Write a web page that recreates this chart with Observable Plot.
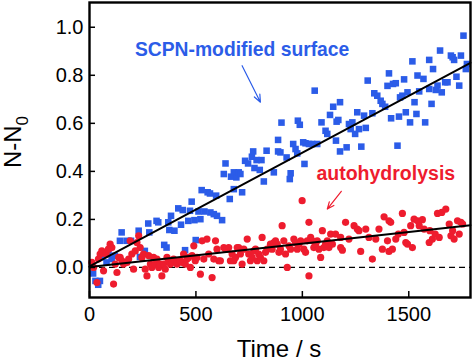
<!DOCTYPE html>
<html><head><meta charset="utf-8">
<script src="https://cdn.jsdelivr.net/npm/d3@7"></script>
<script src="https://cdn.jsdelivr.net/npm/@observablehq/plot@0.6"></script>
<style>body{margin:0;background:#fff}</style>
</head><body><div id="chart"></div>
<script>
const xTicks = [0, 500, 1000, 1500];
const yTicks = [0, 0.2, 0.4, 0.6, 0.8, 1.0];

const blueTime = [17,28,41,49,58,80,89,104,119,143,151,174,195,231,237,260,276,281,315,323,351,362,370,375,383,399,417,430,438,449,464,472,480,493,499,512,521,527,540,555,566,595,568,584,599,623,631,639,659,665,678,678,690,701,709,717,731,745,763,769,775,785,800,808,819,832,866,886,886,897,902,926,941,945,957,968,976,979,988,1004,1010,1015,1031,1046,1058,1070,1090,1109,1117,1130,1145,1158,1161,1169,1177,1177,1208,1219,1227,1235,1248,1258,1266,1277,1290,1298,1307,1329,1338,1352,1368,1376,1389,1400,1407,1417,1426,1439,1447,1454,1459,1470,1478,1486,1494,1506,1517,1527,1536,1541,1549,1569,1577,1596,1596,1607,1614,1627,1635,1647,1655,1671,1682,1698,1706,1713,1724,1737,1745,1757,1768,1773];
const blueValue = [-0.025,-0.056,-0.072,-0.056,0.042,0.021,0.063,0.035,0.049,0.111,0.146,0.111,0.111,0.153,0.044,0.069,0.183,0.146,0.194,0.188,0.094,0.083,0.188,0.156,0.215,0.153,0.246,0.178,0.239,0.072,0.194,0.236,0.274,0.197,0.114,0.233,0.201,0.322,0.233,0.313,0.308,0.299,0.229,0.222,0.215,0.197,0.389,0.433,0.285,0.378,0.396,0.326,0.375,0.396,0.389,0.313,0.444,0.433,0.461,0.483,0.414,0.447,0.406,0.447,0.358,0.486,0.396,0.531,0.483,0.479,0.603,0.458,0.368,0.392,0.514,0.493,0.475,0.611,0.594,0.521,0.431,0.517,0.514,0.514,0.736,0.514,0.604,0.569,0.556,0.635,0.669,0.528,0.607,0.614,0.688,0.483,0.500,0.597,0.576,0.604,0.556,0.646,0.576,0.503,0.632,0.581,0.778,0.642,0.725,0.715,0.694,0.681,0.669,0.756,0.808,0.621,0.764,0.767,0.507,0.628,0.708,0.715,0.783,0.646,0.729,0.604,0.858,0.688,0.639,0.799,0.733,0.785,0.604,0.864,0.743,0.681,0.826,0.739,0.757,0.903,0.729,0.771,0.771,0.882,0.875,0.864,0.794,0.757,0.882,0.965,0.826,0.847];

const redTime = [11,19,35,42,50,58,66,78,89,97,105,113,121,129,137,144,152,160,176,184,191,199,207,215,223,231,238,246,254,262,270,278,286,293,301,309,317,325,333,340,348,356,364,372,380,388,395,403,411,427,435,442,450,458,466,474,482,490,497,505,521,529,537,552,560,576,584,592,599,607,615,631,639,646,654,662,670,678,686,694,701,709,717,725,741,748,756,764,772,780,788,795,803,811,819,827,835,850,858,866,874,882,890,897,905,913,921,929,937,945,960,968,976,984,992,999,1007,1015,1023,1031,1031,1039,1047,1054,1062,1070,1078,1086,1094,1101,1109,1117,1125,1133,1141,1156,1180,1180,1188,1203,1219,1243,1258,1266,1274,1298,1313,1329,1345,1360,1376,1384,1400,1407,1407,1415,1423,1439,1451,1470,1478,1486,1494,1509,1517,1525,1541,1549,1564,1572,1596,1599,1611,1624,1635,1643,1655,1674,1690,1698,1706,1713,1729,1737,1745,1753];
const redValue = [0.021,0.000,-0.063,0.035,0.056,0.069,-0.014,0.056,0.076,0.097,0.083,-0.069,0.014,-0.021,0.042,0.042,0.028,0.014,0.021,0.035,0.111,0.056,-0.007,0.069,0.104,0.132,0.083,0.042,0.056,-0.007,-0.035,0.049,0.014,0.000,0.042,0.014,0.035,0.000,0.014,-0.035,0.014,-0.007,0.042,0.028,0.014,0.021,0.035,0.028,0.014,0.028,0.021,0.056,0.014,0.035,0.042,0.000,0.049,0.090,0.028,0.042,-0.028,0.111,0.035,0.118,0.056,-0.042,0.035,0.111,0.076,0.028,0.028,0.083,0.076,0.076,0.083,0.028,0.056,0.028,0.042,0.083,0.083,0.056,0.014,0.076,0.118,0.056,0.028,0.042,0.069,0.076,0.028,0.056,0.042,0.125,0.028,0.063,0.076,0.097,0.076,0.104,0.111,0.097,0.063,0.076,0.174,0.111,0.056,0.000,0.090,0.076,0.118,0.104,0.076,0.097,0.111,0.278,0.076,0.063,0.111,0.188,-0.035,0.125,0.111,0.083,0.097,0.111,0.076,0.042,0.153,0.083,0.097,0.111,0.083,0.139,0.097,0.139,0.125,0.083,0.072,0.188,0.118,0.174,0.160,0.153,0.067,0.160,0.125,0.035,0.118,0.160,0.076,0.211,0.111,0.194,0.067,0.188,0.076,0.118,0.139,0.225,0.146,0.104,0.097,0.174,0.083,0.201,0.194,0.174,0.199,0.160,0.104,0.153,0.118,0.139,0.225,0.125,0.229,0.243,0.181,0.132,0.153,0.118,0.194,0.139,0.188,0.181];

const fitTime = [0, 1790];
const blueFitValue = [0.005, 0.852];
const redFitValue = [0.002, 0.176];

const BLUE = "#2b5ce8";
const RED = "#ee1c2e";

const blue = blueTime.map((t, i) => ({t, v: blueValue[i]}));
const red = redTime.map((t, i) => ({t, v: redValue[i]}));
const blueFit = fitTime.map((t, i) => ({t, v: blueFitValue[i]}));
const redFit = fitTime.map((t, i) => ({t, v: redFitValue[i]}));

const chart = Plot.plot({
  width: 474, height: 361,
  marginLeft: 89, marginRight: 4, marginTop: 2, marginBottom: 64,
  style: {fontFamily: "'Liberation Sans', Arial, sans-serif", background: "#fff", color: "#000"},
  x: {domain: [0, 1790]},
  y: {domain: [-0.125, 1.103]},
  marks: [
    Plot.ruleY([0], {stroke: "#000", strokeWidth: 1.3, strokeDasharray: "6,4"}),
    Plot.dot(blue, {x: "t", y: "v", symbol: "square", r: 3.7, fill: BLUE, stroke: "none"}),
    Plot.dot(red, {x: "t", y: "v", r: 3.6, fill: RED, stroke: "none"}),
    Plot.line(blueFit, {x: "t", y: "v", stroke: "#000", strokeWidth: 2}),
    Plot.line(redFit, {x: "t", y: "v", stroke: "#000", strokeWidth: 2}),
    Plot.arrow([0], {x1: 717, y1: 0.84, x2: 803, y2: 0.688, stroke: BLUE, strokeWidth: 1.2, headLength: 10, headAngle: 45}),
    Plot.arrow([0], {x1: 1183, y1: 0.317, x2: 1117, y2: 0.243, stroke: RED, strokeWidth: 1.2, headLength: 10, headAngle: 45}),
    Plot.text(["SCPN-modified surface"], {x: 717, y: 0.906, text: d => d, fill: BLUE, fontSize: 19.3, fontWeight: "bold", textAnchor: "middle"}),
    Plot.text(["autohydrolysis"], {x: 1392, y: 0.389, text: d => d, fill: RED, fontSize: 19.5, fontWeight: "bold", textAnchor: "middle"}),
    Plot.ruleX(xTicks, {stroke: "#000", strokeWidth: 1.5, insetTop: 289}),
    Plot.ruleY(yTicks, {stroke: "#000", strokeWidth: 1.5, insetRight: 375}),
    Plot.axisX({ticks: xTicks, tickSize: 0, tickPadding: 9, fontSize: 20, label: null, tickFormat: d3.format("d")}),
    Plot.axisY({ticks: yTicks, tickSize: 0, tickPadding: 6, fontSize: 20, label: null, tickFormat: d3.format(".1f")}),
    Plot.frame({stroke: "#000", strokeWidth: 2.4})
  ]
});
document.getElementById("chart").append(chart);

const svg = d3.select(chart);
svg.append("text")
  .attr("x", 279).attr("y", 357)
  .attr("text-anchor", "middle")
  .attr("font-size", 24).attr("fill", "#000")
  .text("Time / s");
const yl = svg.append("text")
  .attr("transform", "translate(21,142) rotate(-90)")
  .attr("text-anchor", "middle")
  .attr("font-size", 24).attr("fill", "#000");
yl.append("tspan").text("N-N");
yl.append("tspan").attr("dy", 7).attr("font-size", 17).text("0");
</script>
</body></html>
